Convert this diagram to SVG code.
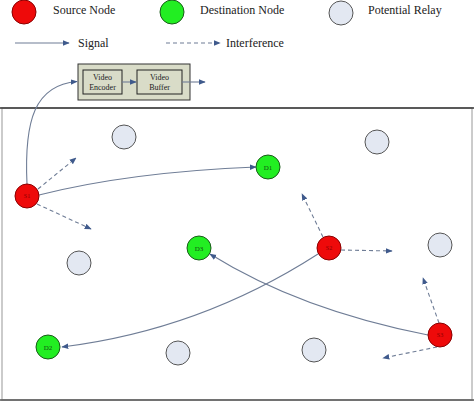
<svg xmlns="http://www.w3.org/2000/svg" width="474" height="406" viewBox="0 0 474 406">
<defs>
<marker id="ah" viewBox="0 0 10 10" refX="9" refY="5" markerWidth="7" markerHeight="7" markerUnits="userSpaceOnUse" orient="auto">
<path d="M0,1 L10,5 L0,9 Z" fill="#3f5a8c"/>
</marker>
<style>
text{font-family:"Liberation Serif","Times New Roman",serif;}
.lg{font-size:12px;fill:#222;}
.src{fill:#ee0a0a;stroke:#8a0000;stroke-width:1;}
.dst{fill:#22ee22;stroke:#1a5a1a;stroke-width:1;}
.rel{fill:#e3e8f2;stroke:#555;stroke-width:1;}
.sig{fill:none;stroke:#6f7d96;stroke-width:1.1;}
.intf{fill:none;stroke:#6f7d96;stroke-width:1.1;stroke-dasharray:4,3;}
.sl{font-size:6px;fill:#8a0000;text-anchor:middle;}
.dl{font-size:7px;fill:#135013;text-anchor:middle;}
.bx{font-size:8px;fill:#222;text-anchor:middle;}
</style>
</defs>
<rect width="474" height="406" fill="#fff"/>
<g id="legend">
<circle class="src" cx="24" cy="12" r="12"/>
<text class="lg" x="53" y="14">Source Node</text>
<circle class="dst" cx="172" cy="12" r="12"/>
<text class="lg" x="200" y="14">Destination Node</text>
<circle class="rel" cx="341" cy="13" r="12"/>
<text class="lg" x="368" y="14">Potential Relay</text>
<line class="sig" x1="15" y1="43" x2="69" y2="43" marker-end="url(#ah)"/>
<text class="lg" x="78" y="47">Signal</text>
<line class="intf" x1="166" y1="43" x2="220" y2="43" marker-end="url(#ah)"/>
<text class="lg" x="226" y="47">Interference</text>
</g>
<g id="frame">
<rect x="2" y="108" width="470" height="292" fill="none" stroke="#bbb" stroke-width="1.5"/>
<line x1="0" y1="108" x2="474" y2="108" stroke="#333" stroke-width="1.5"/>
<line x1="0" y1="400" x2="474" y2="400" stroke="#555" stroke-width="1.5"/>
</g>
<g id="video-box">
<rect x="78" y="64" width="112" height="36" fill="#d9dcc8" stroke="#333" stroke-width="1"/>
<g id="video-encoder">
<rect x="83" y="70" width="39" height="24" fill="#d9dcc8" stroke="#222" stroke-width="1"/>
<text class="bx" x="102.5" y="80">Video</text>
<text class="bx" x="102.5" y="90">Encoder</text>
</g>
<g id="video-buffer">
<rect x="137" y="70" width="45" height="24" fill="#d9dcc8" stroke="#222" stroke-width="1"/>
<text class="bx" x="159.5" y="80">Video</text>
<text class="bx" x="159.5" y="90">Buffer</text>
</g>
</g>
<g id="connectors">
<path class="sig" d="M27,184 C24,120 35,85 77,81.5" marker-end="url(#ah)"/>
<line class="sig" x1="122" y1="82" x2="136" y2="82" marker-end="url(#ah)"/>
<line class="sig" x1="182" y1="82" x2="205" y2="82" marker-end="url(#ah)"/>
<path class="sig" d="M39,195 Q130,172 256,167" marker-end="url(#ah)"/>
<line class="intf" x1="38" y1="189" x2="76" y2="158" marker-end="url(#ah)"/>
<line class="intf" x1="37" y1="204" x2="91" y2="229" marker-end="url(#ah)"/>
<path class="sig" d="M318,254 Q200,330 62,347" marker-end="url(#ah)"/>
<path class="sig" d="M428,335 Q300,310 210,254" marker-end="url(#ah)"/>
<line class="intf" x1="323" y1="237" x2="302" y2="194" marker-end="url(#ah)"/>
<line class="intf" x1="341" y1="250" x2="392" y2="251" marker-end="url(#ah)"/>
<line class="intf" x1="439" y1="323" x2="423" y2="278" marker-end="url(#ah)"/>
<line class="intf" x1="437" y1="347" x2="383" y2="358" marker-end="url(#ah)"/>
</g>
<g id="S1"><circle class="src" cx="27" cy="196" r="12"/><text class="sl" x="27" y="198">S1</text></g>
<g id="S2"><circle class="src" cx="329" cy="248" r="12"/><text class="sl" x="329" y="250">S2</text></g>
<g id="S3"><circle class="src" cx="440" cy="335" r="12"/><text class="sl" x="440" y="337">S3</text></g>
<g id="D1"><circle class="dst" cx="268" cy="167" r="12"/><text class="dl" x="268" y="169.5">D1</text></g>
<g id="D2"><circle class="dst" cx="48" cy="347" r="12"/><text class="dl" x="48" y="349.5">D2</text></g>
<g id="D3"><circle class="dst" cx="199" cy="248" r="12"/><text class="dl" x="199" y="250.5">D3</text></g>
<g id="R1"><circle class="rel" cx="124" cy="137" r="12"/></g>
<g id="R2"><circle class="rel" cx="79" cy="263" r="12"/></g>
<g id="R3"><circle class="rel" cx="178" cy="353" r="12"/></g>
<g id="R4"><circle class="rel" cx="377" cy="142" r="12"/></g>
<g id="R5"><circle class="rel" cx="440" cy="245" r="12"/></g>
<g id="R6"><circle class="rel" cx="314" cy="350" r="12"/></g>
</svg>
